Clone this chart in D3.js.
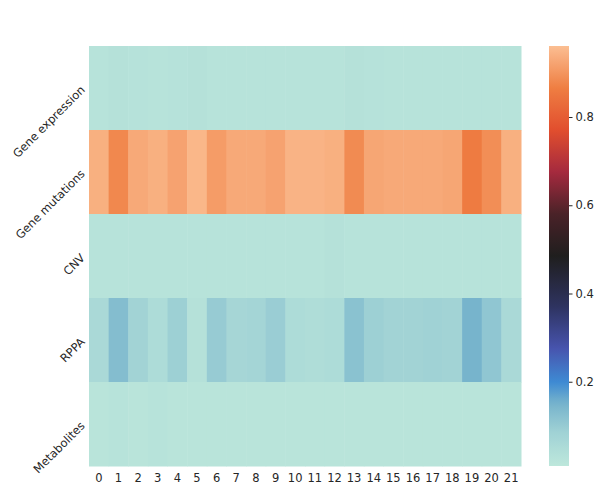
<!DOCTYPE html>
<html><head><meta charset="utf-8">
<script src="https://cdn.jsdelivr.net/npm/d3@7"></script>
<style>body{margin:0;background:#fff}text{font-family:"DejaVu Sans",sans-serif}</style>
</head><body>
<svg id="chart" width="607" height="486"></svg>
<script>
const rows = ['Gene expression', 'Gene mutations', 'CNV', 'RPPA', 'Metabolites'];
const cols = d3.range(22).map(String);
const geneExpression = [0.025,0.03,0.028,0.025,0.027,0.03,0.025,0.025,0.025,0.025,0.025,0.025,0.025,0.03,0.027,0.025,0.025,0.025,0.025,0.025,0.025,0.025];
const geneMutations = [0.94,0.88,0.93,0.94,0.92,0.95,0.91,0.93,0.93,0.92,0.945,0.945,0.94,0.885,0.925,0.93,0.93,0.93,0.925,0.86,0.89,0.94];
const cnv = [0.025,0.025,0.025,0.025,0.025,0.025,0.025,0.025,0.025,0.025,0.025,0.025,0.03,0.025,0.025,0.025,0.025,0.025,0.025,0.025,0.025,0.025];
const rppa = [0.06,0.13,0.08,0.05,0.09,0.03,0.1,0.07,0.075,0.095,0.05,0.045,0.05,0.12,0.09,0.08,0.08,0.085,0.08,0.15,0.11,0.06];
const metabolites = [0.02,0.025,0.02,0.025,0.02,0.02,0.02,0.02,0.02,0.02,0.02,0.02,0.02,0.02,0.02,0.02,0.02,0.02,0.02,0.02,0.02,0.02];
const matrix = [geneExpression, geneMutations, cnv, rppa, metabolites];
const cbTicks = [0.2, 0.4, 0.6, 0.8];
const vmin = 0.009, vmax = 0.961;

// icefire-like ramp
const stops = [[0,'#bde7db'],[0.08,'#a0d2d5'],[0.15,'#76b3cc'],[0.2,'#3e8ad3'],[0.28,'#4754ae'],[0.38,'#2e3360'],[0.5,'#1f1e1e'],[0.6,'#4a2228'],[0.7,'#a52a3e'],[0.8,'#e14e2e'],[0.9,'#ef7e42'],[1,'#fbbe92']];
const ramp = d3.scaleLinear().domain(stops.map(s => s[0])).range(stops.map(s => s[1])).interpolate(d3.interpolateRgb).clamp(true);
const color = v => ramp((v - vmin) / (vmax - vmin));

const svg = d3.select('#chart');
const mLeft = 89, mRight = 521, mTop = 46, mBottom = 466;
const x = d3.scaleBand().domain(cols).range([mLeft, mRight]);
const y = d3.scaleBand().domain(rows).range([mTop, mBottom]);

const cells = [];
matrix.forEach((r, i) => r.forEach((v, j) => cells.push({ row: rows[i], col: cols[j], v })));
svg.selectAll('rect.cell').data(cells).enter().append('rect')
  .attr('x', d => x(d.col)).attr('y', d => y(d.row))
  .attr('width', x.bandwidth() + 0.5).attr('height', y.bandwidth() + 0.5)
  .attr('fill', d => color(d.v));

const xa = svg.append('g').attr('transform', `translate(0,${mBottom})`)
  .call(d3.axisBottom(x).tickSize(0).tickPadding(8));
xa.select('.domain').remove();
xa.selectAll('text').attr('font-size', 11.5).attr('fill', '#262626');

const ya = svg.append('g').attr('transform', `translate(${mLeft},0)`)
  .call(d3.axisLeft(y).tickSize(0).tickPadding(6));
ya.select('.domain').remove();
ya.selectAll('text').attr('font-size', 11.5).attr('fill', '#262626')
  .attr('transform', 'rotate(-45,-6,0)')
  .attr('dy', '0.32em');

// colorbar
const cbx = 549, cbw = 20;
const cy = d3.scaleLinear().domain([vmin, vmax]).range([mBottom, mTop]);
const grad = svg.append('defs').append('linearGradient').attr('id', 'cb')
  .attr('x1', 0).attr('y1', 1).attr('x2', 0).attr('y2', 0);
d3.range(0, 1.001, 0.02).forEach(t => grad.append('stop').attr('offset', t).attr('stop-color', ramp(t)));
svg.append('rect').attr('x', cbx).attr('y', mTop).attr('width', cbw).attr('height', mBottom - mTop).attr('fill', 'url(#cb)');
const ca = svg.append('g').attr('transform', `translate(${cbx + cbw},0)`)
  .call(d3.axisRight(cy).tickValues(cbTicks).tickSize(3.5).tickPadding(3));
ca.select('.domain').remove();
ca.selectAll('line').attr('stroke', '#262626');
ca.selectAll('text').attr('font-size', 11.5).attr('fill', '#262626');
</script>
</body></html>
